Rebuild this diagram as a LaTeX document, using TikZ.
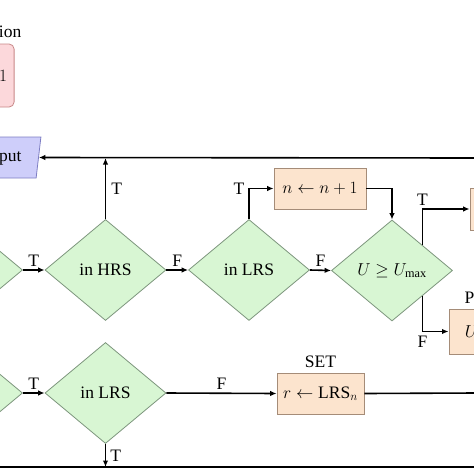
\documentclass[tikz,border=0pt]{standalone}
\usepackage{amsmath}
\usepackage{fontspec}
\setmainfont{Liberation Serif}
\usetikzlibrary{shapes.geometric,arrows.meta}
\definecolor{decfill}{RGB}{216,246,211}
\definecolor{decdraw}{RGB}{125,150,125}
\definecolor{procfill}{RGB}{252,228,206}
\definecolor{procdraw}{RGB}{165,140,120}
\definecolor{iofill}{RGB}{206,206,250}
\definecolor{iodraw}{RGB}{125,125,195}
\definecolor{initfill}{RGB}{252,216,219}
\definecolor{initdraw}{RGB}{200,135,135}
\newcommand{\dfont}{\fontsize{17.5}{21}\selectfont}
\tikzset{
  decision/.style={diamond, aspect=1.2, draw=decdraw, fill=decfill, line width=0.8pt,
    minimum width=121pt, minimum height=101pt, inner sep=0pt, font=\dfont},
  process/.style={rectangle, draw=procdraw, fill=procfill, line width=0.8pt,
    minimum height=41pt, inner sep=5pt, font=\dfont},
  iobox/.style={trapezium, trapezium left angle=80, trapezium right angle=100,
    trapezium stretches=true, draw=iodraw, fill=iofill, line width=0.8pt,
    minimum width=76pt, minimum height=41pt, inner sep=0pt, font=\dfont},
  initbox/.style={rectangle, rounded corners=5pt, draw=initdraw, fill=initfill, line width=0.8pt,
    minimum height=63pt, inner xsep=7pt, font=\dfont},
  conn/.style={line width=1.6pt, -{Latex[length=6.5pt,width=5.5pt]}},
  plain/.style={line width=1.6pt},
  lbl/.style={font=\dfont, inner sep=1pt},
}
\begin{document}
\begin{tikzpicture}[x=1pt,y=-1pt]
\useasboundingbox (0,0) rectangle (474,474);
% nodes
\node[initbox, anchor=east] (init) at (14.5,75.5) {$n \leftarrow 1$};
\node[lbl, anchor=base east] (initlbl) at (22.5,37) {Initialization};
\node[iobox] (input) at (3,157.5) {Input};
\node[decision] (d1) at (-38,270) {};
\node[decision] (hrs) at (105.5,270) {in HRS};
\node[decision] (lrs1) at (249,270) {in LRS};
\node[process, minimum width=92pt] (inc) at (320,188.5) {$n \leftarrow n+1$};
\node[decision] (umax) at (392,270.5) {$U \geq U_{\text{max}}$};
\node[process, minimum width=80pt, minimum height=42pt] (boxT) at (510,209) {};
\node[process, minimum width=80pt, minimum height=45pt, anchor=west] (boxF) at (448.5,331.5) {$U \leftarrow 0$};
\node[lbl, anchor=base west] (boxFlbl) at (463.5,303) {PUSH};
\node[decision] (d2) at (-38,393) {};
\node[decision] (lrs2) at (105.5,393) {in LRS};
\node[process, minimum width=87pt] (set) at (320.5,393.5) {$r \leftarrow \mathrm{LRS}_n$};
\node[lbl, anchor=base] (setlbl) at (320.5,367) {SET};
\coordinate (topR) at (476,158);
\coordinate (botL) at (-2,467);
\coordinate (botR) at (476,467);
\coordinate (row2R) at (476,393);
% connectors
\draw[conn] (topR) -- (input.east);
\draw[conn] (hrs.north) -- (hrs.north |- topR) node[lbl, pos=0.5, right=4pt] {T};
\draw[conn] (d1.east) -- (hrs.west) node[lbl, midway, above=2pt] {T};
\draw[conn] (hrs.east) -- (lrs1.west) node[lbl, midway, above=2pt] {F};
\draw[conn] (lrs1.north) |- (inc.west) node[lbl, pos=0.5, left=3pt] {T};
\draw[conn] (inc.east) -| (umax.north);
\draw[conn] (lrs1.east) -- (umax.west) node[lbl, midway, above=2pt] {F};
\draw[conn] (umax.north east) |- (boxT.west) node[lbl, pos=0.5, above=2pt] {T};
\draw[conn] (umax.south east) |- (boxF.west) node[lbl, pos=0.5, below=3pt] {F};
\draw[conn] (d2.east) -- (lrs2.west) node[lbl, midway, above=2pt] {T};
\draw[conn] (lrs2.east) -- (set.west) node[lbl, midway, above=2pt] {F};
\draw[plain] (set.east) -- (row2R);
\draw[conn] (lrs2.south) -- (lrs2.south |- botL) node[lbl, midway, right=3pt] {T};
\draw[plain] (botL) -- (botR);
\end{tikzpicture}
\end{document}
